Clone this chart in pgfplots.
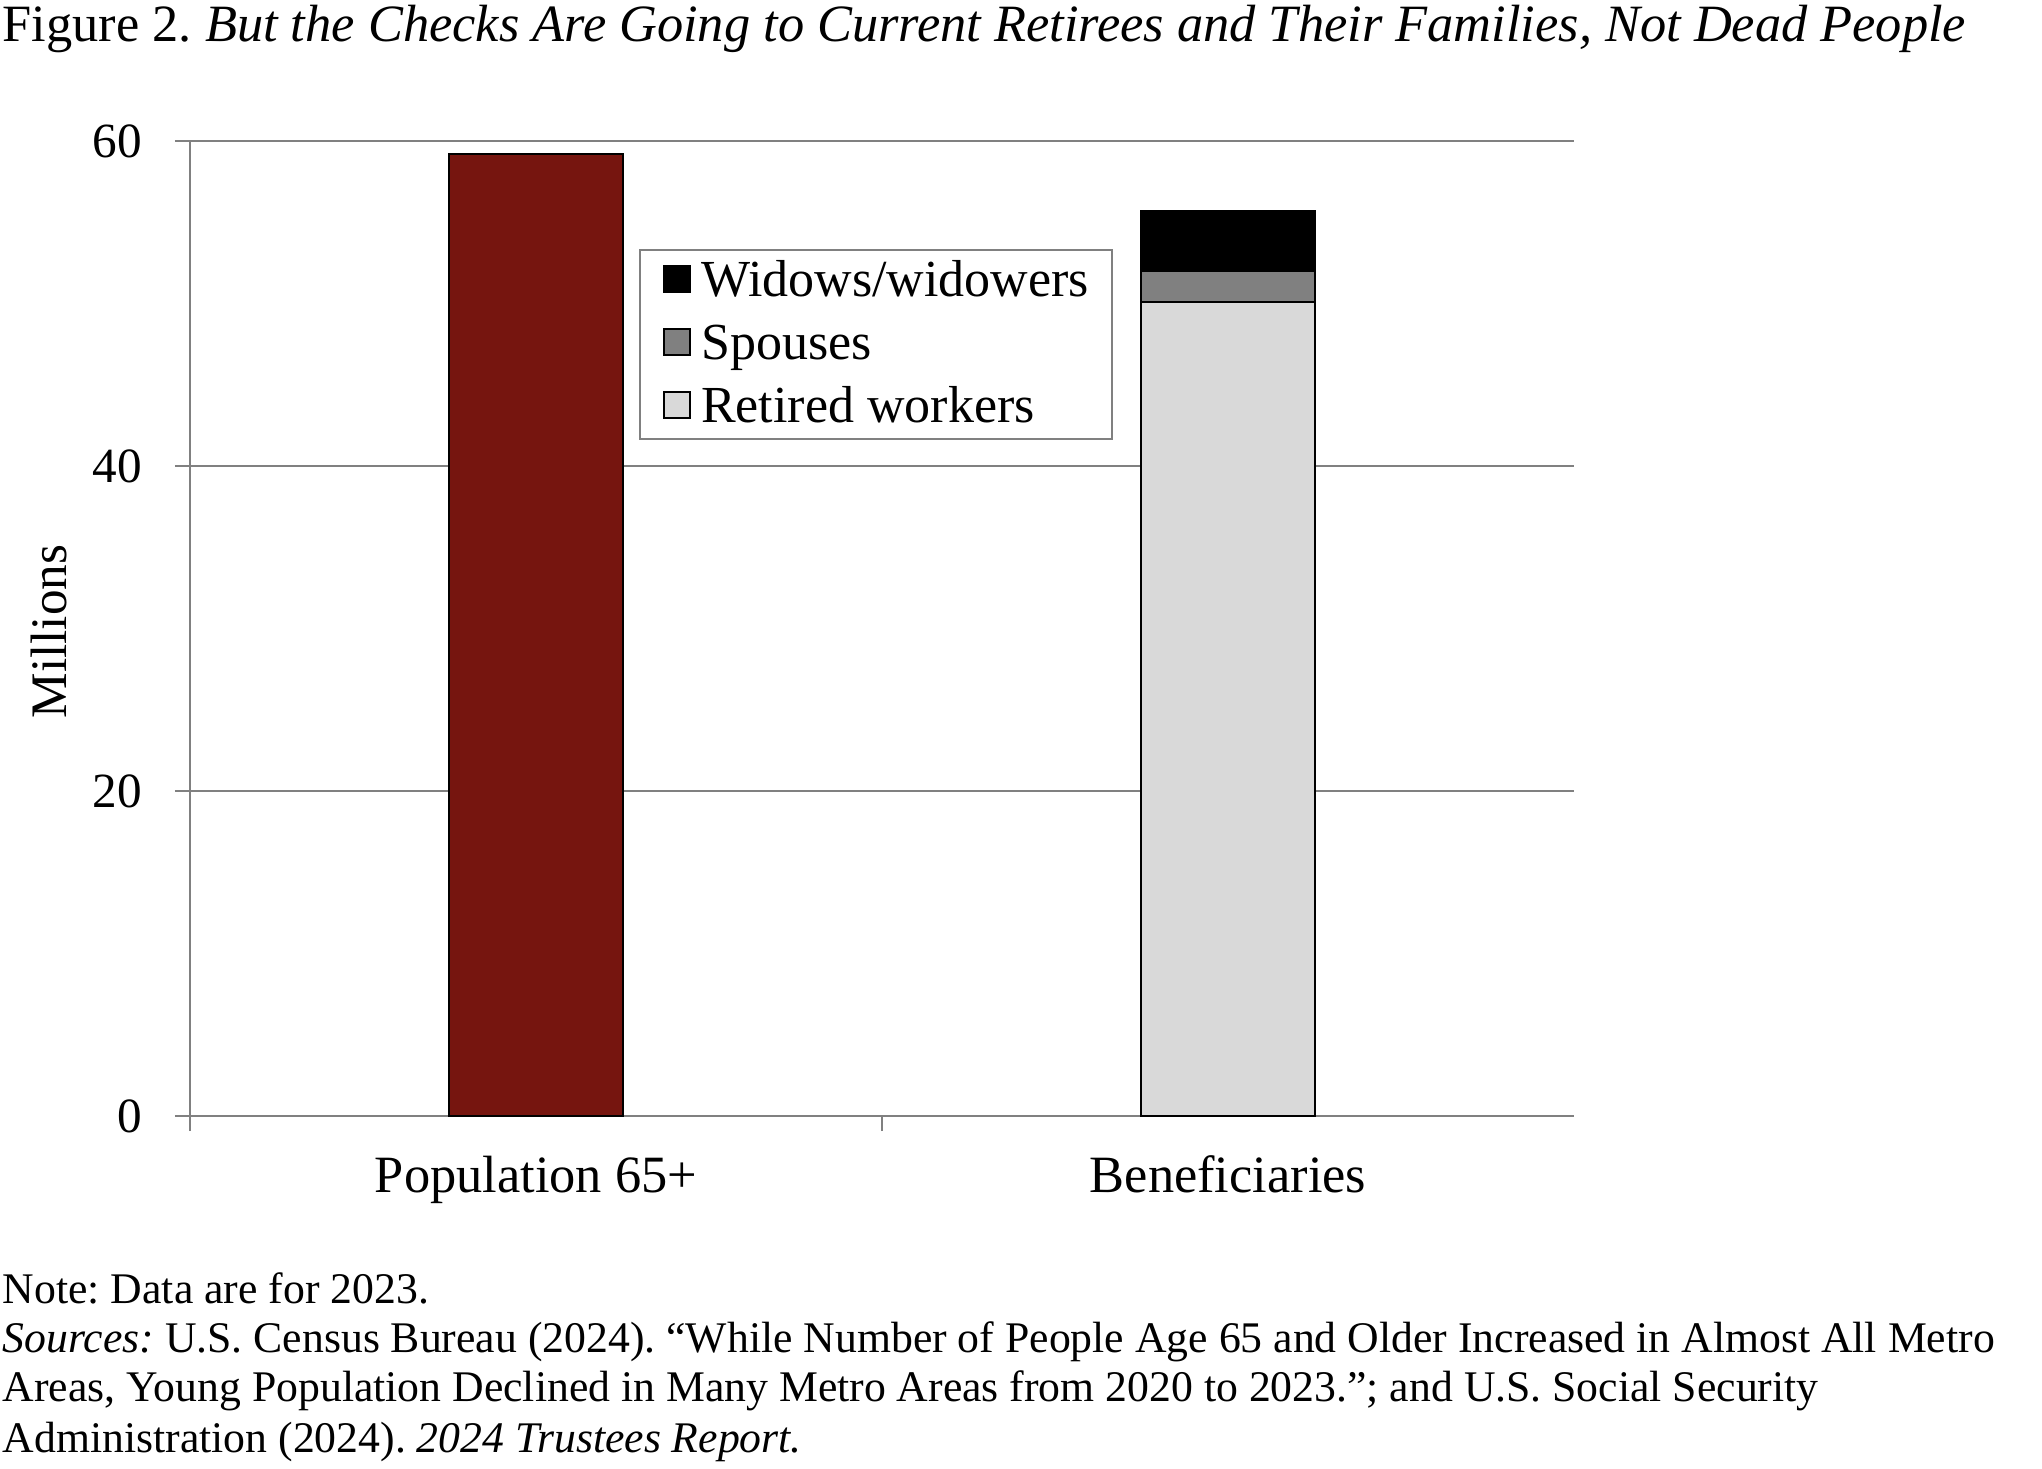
\documentclass[border=0pt]{standalone}
\usepackage{fontspec}
\setmainfont{Liberation Serif}
\usepackage{pgfplots}
\pgfplotsset{compat=1.18}
\definecolor{barred}{RGB}{118,21,15}
\definecolor{lgray}{RGB}{217,217,217}
\definecolor{mgray}{RGB}{128,128,128}
\definecolor{axgray}{RGB}{128,128,128}
\begin{document}
\frenchspacing
\begin{tikzpicture}
\path[use as bounding box] (0pt,0pt) rectangle (510.5pt,-367pt);
\node[anchor=base west, inner sep=0pt, font=\fontsize{13.1}{15}\selectfont] at (0.5pt,-10.25pt)
  {Figure 2. \textit{But the Checks Are Going to Current Retirees and Their Families, Not Dead People}};
\begin{axis}[
  at={(47.5pt,-279pt)}, anchor=south west,
  scale only axis, width=346pt, height=243.75pt,
  xmin=-0.5, xmax=1.5, ymin=0, ymax=60,
  ybar stacked, bar width=43.5pt,
  axis x line*=bottom, axis y line*=left,
  axis line style={-, draw=axgray, line width=0.5pt},
  ytick={0,20,40,60},
  xtick={-0.5,0.5}, xticklabels={,,},
  xtick pos=lower, ytick pos=left,
  tick align=outside, major tick length=3.75pt,
  tick style={draw=axgray, line width=0.5pt},
  ymajorgrids, grid style={draw=axgray, line width=0.5pt},
  /pgf/number format/assume math mode=true,
  yticklabel style={anchor=east, inner sep=0pt, xshift=-8pt, font=\fontsize{12.3}{14}\selectfont},
  extra x ticks={0,1},
  extra x tick labels={Population 65+,Beneficiaries},
  extra x tick style={major tick length=0pt, grid=none,
     xticklabel style={anchor=base, inner sep=0pt, yshift=-19pt, font=\fontsize{13.1}{15}\selectfont}},
  ylabel={Millions},
  every axis y label/.style={at={([xshift=-35.25pt]rel axis cs:0,0.497)}, rotate=90, anchor=center, font=\fontsize{12.8}{15}\selectfont},
  reverse legend,
  legend style={at={(0.3244,0.8892)}, anchor=north west, draw=axgray, line width=0.5pt,
     inner xsep=5.8pt, inner ysep=0pt, column sep=2.6pt,
     font=\fontsize{13}{15}\selectfont,
     nodes={inner xsep=0pt, inner ysep=0pt, text height=11.5pt, text depth=4.25pt}},
  legend cell align=left,
  legend image code/.code={\draw[#1, line width=0.4pt] (0pt,-2.55pt) rectangle (6.5pt,3.95pt);},
]
\addplot[forget plot, fill=barred, draw=black, line width=0.5pt] coordinates {(0,59.2) (1,0)};
\addplot[fill=lgray, draw=black, line width=0.5pt] coordinates {(0,0) (1,50.1)};
\addlegendentry{Retired workers}
\addplot[fill=mgray, draw=black, line width=0.5pt] coordinates {(0,0) (1,1.9)};
\addlegendentry{Spouses}
\addplot[fill=black, draw=black, line width=0.5pt] coordinates {(0,0) (1,3.7)};
\addlegendentry{Widows/widowers}
\end{axis}
\begin{scope}[every node/.style={anchor=base west, inner sep=0pt, font=\fontsize{10.93}{13.5}\selectfont}]
\node at (0.5pt,-325.75pt) {Note: Data are for 2023.};
\node at (0.5pt,-338pt) {\textit{Sources:} U.S. Census Bureau (2024). “While Number of People Age 65 and Older Increased in Almost All Metro};
\node at (0.5pt,-350.25pt) {Areas, Young Population Declined in Many Metro Areas from 2020 to 2023.”; and U.S. Social Security};
\node at (0.5pt,-363pt) {Administration (2024). \textit{2024 Trustees Report.}};
\end{scope}
\end{tikzpicture}
\end{document}
